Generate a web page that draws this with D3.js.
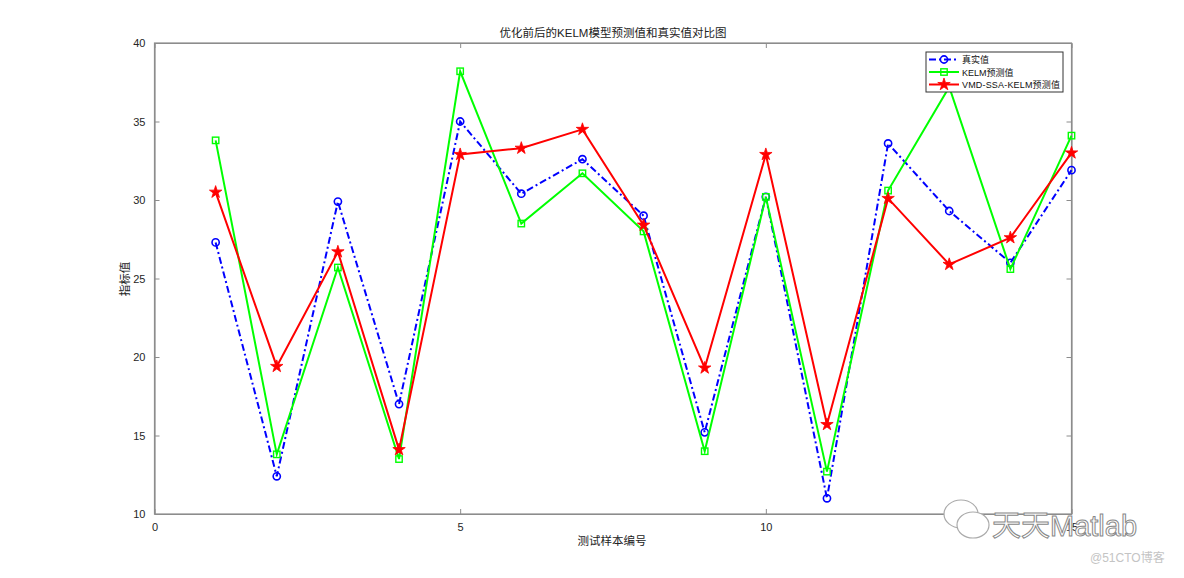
<!DOCTYPE html>
<html>
<head>
<meta charset="utf-8">
<script src="https://cdn.jsdelivr.net/npm/d3@7/dist/d3.min.js"></script>
<style>
html,body{margin:0;padding:0;background:#fff;}
svg{display:block;}
text{font-family:"Liberation Sans","Noto Sans CJK SC",sans-serif;}
</style>
</head>
<body>
<svg id="chart" width="1184" height="578"></svg>
<script>
const samples = [1,2,3,4,5,6,7,8,9,10,11,12,13,14,15];
const trueValues = [27.3,12.4,29.9,17.0,35.0,30.4,32.6,29.0,15.2,30.2,11.0,33.6,29.3,26.0,31.9];
const kelmValues = [33.8,13.8,25.7,13.5,38.2,28.5,31.7,28.0,14.0,30.2,12.7,30.6,37.2,25.6,34.1];
const vmdValues = [30.5,19.4,26.7,14.1,32.9,33.3,34.5,28.4,19.3,32.9,15.7,30.1,25.9,27.6,33.0];
const seriesNames = ["真实值","KELM预测值","VMD-SSA-KELM预测值"];
const xTicks = [0,5,10,15];
const yTicks = [10,15,20,25,30,35,40];
const titleText = "优化前后的KELM模型预测值和真实值对比图";
const xLabel = "测试样本编号";
const yLabel = "指标值";

const svg = d3.select("#chart");
const L = 154.5, R = 1071.5, T = 43, B = 514;
const x = d3.scaleLinear().domain([0,15]).range([L,R]);
const y = d3.scaleLinear().domain([10,40]).range([B,T]);
const axisColor = "#8c8c8c";
const font = "Liberation Sans, Noto Sans CJK SC, sans-serif";

svg.append("rect").attr("x",L).attr("y",T).attr("width",R-L).attr("height",B-T)
  .attr("fill","#fff").attr("stroke",axisColor).attr("stroke-width",1.2);

const gB = svg.append("g").attr("transform",`translate(0,${B})`)
  .call(d3.axisBottom(x).tickValues(xTicks).tickSizeInner(-5).tickSizeOuter(0).tickPadding(9));
const gT = svg.append("g").attr("transform",`translate(0,${T})`)
  .call(d3.axisTop(x).tickValues(xTicks).tickSizeInner(-5).tickSizeOuter(0).tickFormat(""));
const gL = svg.append("g").attr("transform",`translate(${L},0)`)
  .call(d3.axisLeft(y).tickValues(yTicks).tickSizeInner(-5).tickSizeOuter(0).tickPadding(9));
const gR = svg.append("g").attr("transform",`translate(${R},0)`)
  .call(d3.axisRight(y).tickValues(yTicks).tickSizeInner(-5).tickSizeOuter(0).tickFormat(""));
[gB,gT,gL,gR].forEach(g=>{
  g.select(".domain").attr("stroke",axisColor).attr("stroke-width",1.2);
  g.selectAll(".tick line").attr("stroke",axisColor);
  g.selectAll(".tick text").attr("fill","#262626").attr("font-size",11).attr("font-family",font);
});

const series = [
  {name:seriesNames[0], values:trueValues, color:"#0000ff", dash:"7,3,2,3", marker:"circle"},
  {name:seriesNames[1], values:kelmValues, color:"#00ff00", dash:null, marker:"square"},
  {name:seriesNames[2], values:vmdValues, color:"#ff0000", dash:null, marker:"star"}
];
const line = d3.line().x(d=>x(d[0])).y(d=>y(d[1]));
const starPath = d3.symbol().type(d3.symbolStar).size(48)();
function drawMarker(g, type, color){
  if(type==="circle") g.append("circle").attr("r",3.6).attr("fill","none").attr("stroke",color).attr("stroke-width",1.6);
  else if(type==="square") g.append("rect").attr("x",-3.2).attr("y",-3.2).attr("width",6.4).attr("height",6.4).attr("fill","none").attr("stroke",color).attr("stroke-width",1.4);
  else g.append("path").attr("d",starPath).attr("fill",color).attr("stroke",color).attr("stroke-width",0.8);
}
series.forEach(s=>{
  const pts = samples.map((d,i)=>[d,s.values[i]]);
  svg.append("path").attr("d",line(pts)).attr("fill","none").attr("stroke",s.color)
    .attr("stroke-width",2).attr("stroke-dasharray",s.dash);
  pts.forEach(p=>{
    const g = svg.append("g").attr("transform",`translate(${x(p[0])},${y(p[1])})`);
    drawMarker(g,s.marker,s.color);
  });
});

const lg = svg.append("g").attr("transform","translate(926,52)");
lg.append("rect").attr("width",137).attr("height",40).attr("fill","#fff").attr("stroke","#333").attr("stroke-width",1);
series.forEach((s,i)=>{
  const yy = 7.5 + i*12.5;
  lg.append("line").attr("x1",3).attr("x2",33).attr("y1",yy).attr("y2",yy).attr("stroke",s.color)
    .attr("stroke-width",2).attr("stroke-dasharray",s.dash);
  const g = lg.append("g").attr("transform",`translate(18,${yy})`);
  drawMarker(g,s.marker,s.color);
  lg.append("text").attr("x",36).attr("y",yy+3.5).attr("font-size",9).attr("fill","#111")
    .attr("font-family",font).attr("textLength", i===2 ? 98 : null).text(s.name);
});

svg.append("text").attr("x",613).attr("y",37).attr("text-anchor","middle").attr("font-size",11.5)
  .attr("fill","#222").attr("font-family",font).text(titleText);
svg.append("text").attr("x",612).attr("y",545).attr("text-anchor","middle").attr("font-size",11.5)
  .attr("fill","#222").attr("font-family",font).text(xLabel);
svg.append("text").attr("transform","translate(129,279) rotate(-90)").attr("text-anchor","middle").attr("font-size",11.5)
  .attr("fill","#222").attr("font-family",font).text(yLabel);

const wm = svg.append("g");
wm.append("ellipse").attr("cx",961).attr("cy",514).attr("rx",17).attr("ry",14).attr("fill","#fff").attr("stroke","#aaa").attr("stroke-width",1.2);
wm.append("ellipse").attr("cx",973).attr("cy",525).attr("rx",16).attr("ry",13).attr("fill","#fff").attr("stroke","#aaa").attr("stroke-width",1.2);
wm.append("text").attr("x",992).attr("y",536).attr("font-size",29).attr("fill","#fff").attr("stroke","#888")
  .attr("stroke-width",1).attr("font-family","Noto Sans CJK SC, sans-serif").text("天天Matlab");
wm.append("text").attr("x",1090).attr("y",562).attr("font-size",12).attr("fill","#c4c4c4")
  .attr("font-family","Noto Sans CJK SC, sans-serif").text("@51CTO博客");
</script>
</body>
</html>
